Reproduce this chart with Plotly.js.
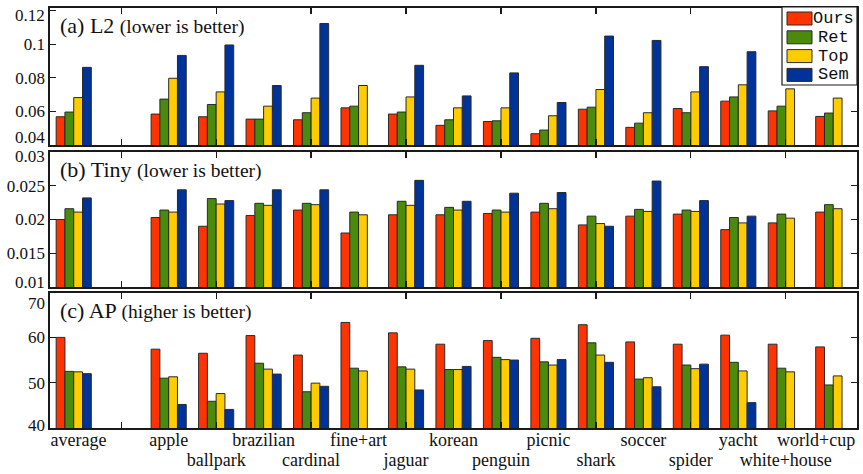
<!DOCTYPE html>
<html>
<head>
<meta charset="utf-8">
<script src="https://cdn.plot.ly/plotly-3.0.1.min.js"></script>
<style>html,body{margin:0;padding:0;background:#fff;}#chart{width:863px;height:474px;}</style>
</head>
<body>
<div id="chart"></div>
<script>
const categories = ['average','apple','ballpark','brazilian','cardinal','fine+art','jaguar','korean','penguin','picnic','shark','soccer','spider','yacht','white+house','world+cup'];
const seriesNames = ['Ours','Ret','Top','Sem'];

const l2Ours = [0.0568,0.0584,0.0568,0.0554,0.0550,0.0621,0.0584,0.0517,0.0540,0.0467,0.0613,0.0505,0.0617,0.0661,0.0603,0.0570];
const l2Ret  = [0.0596,0.0673,0.0641,0.0554,0.0592,0.0631,0.0596,0.0550,0.0544,0.0489,0.0625,0.0530,0.0592,0.0686,0.0631,0.0590];
const l2Top  = [0.0682,0.0797,0.0716,0.0631,0.0679,0.0754,0.0686,0.0621,0.0621,0.0574,0.0730,0.0592,0.0716,0.0758,0.0734,0.0679];
const l2Sem  = [0.0862,0.0933,0.0995,0.0754,0.1123,null,0.0874,0.0692,0.0829,0.0653,0.1048,0.1022,0.0866,0.0955,null,null];

const tinyOurs = [0.0200,0.0203,0.0190,0.0206,0.0214,0.0180,0.0207,0.0207,0.0209,0.0211,0.0192,0.0205,0.0208,0.0185,0.0195,0.0211];
const tinyRet  = [0.0216,0.0214,0.0231,0.0224,0.0224,0.0211,0.0227,0.0218,0.0214,0.0224,0.0205,0.0215,0.0214,0.0203,0.0208,0.0222];
const tinyTop  = [0.0211,0.0211,0.0223,0.0221,0.0222,0.0207,0.0221,0.0214,0.0211,0.0216,0.0194,0.0212,0.0212,0.0195,0.0202,0.0216];
const tinySem  = [0.0232,0.0244,0.0228,0.0244,0.0244,null,0.0258,0.0227,0.0239,0.0240,0.0190,0.0257,0.0228,0.0205,null,null];

const apOurs = [60.0,57.4,56.5,60.4,56.1,63.3,61.0,58.5,59.3,59.8,62.8,59.0,58.5,60.5,58.5,57.9];
const apRet  = [52.5,51.0,45.9,54.3,48.0,53.2,53.5,52.9,55.6,54.6,58.8,50.8,53.9,54.5,53.2,49.5];
const apTop  = [52.4,51.3,47.6,53.0,49.9,52.6,53.0,52.9,55.1,53.9,56.1,51.1,53.1,52.6,52.4,51.5];
const apSem  = [52.0,45.2,44.1,51.9,49.2,null,48.4,53.6,55.0,55.1,54.5,49.1,54.1,45.6,null,null];

const l2TickVals = [0.04,0.06,0.08,0.1,0.12];
const l2TickText = ['0.04','0.06','0.08','0.1','0.12'];
const tinyTickVals = [0.01,0.015,0.02,0.025,0.03];
const tinyTickText = ['0.01','0.015','0.02','0.025','0.03'];
const apTickVals = [40,50,60,70];
const apTickText = ['40','50','60','70'];

const panelTitles = ['(a) L2', '(b) Tiny', '(c) AP'];
const panelNotes = ['(lower is better)', '(lower is better)', '(higher is better)'];

// ---- layout / style ----
const colors = ['#FF3300','#4A8A0C','#FFCC00','#003399'];
const serif = '"Liberation Serif", "Times New Roman", Times, serif';
const mono = '"Liberation Mono", "Courier New", Courier, monospace';
const lineCol = '#1a1a1a';
const W = 863, H = 474, M = {l:50, r:6, t:8, b:46};
const pxX = x => (x - M.l) / (W - M.l - M.r);
const pxY = y => (H - M.b - y) / (H - M.t - M.b);

// an empty slot is left after "average"
const xpos = categories.map((c,i) => i === 0 ? 0 : i + 1);
const xRange = [-0.5, xpos[xpos.length-1] + 0.5];
const sepTicks = [];
for (let v = 1; v < xpos[xpos.length-1]; v += 2) sepTicks.push(v);

const panels = [
  {data:[l2Ours,l2Ret,l2Top,l2Sem], xa:'x', ya:'y', range:[0.04,0.1215], dom:[0.6738,1],
   tv:l2TickVals, tt:l2TickText, shift:[8,-5]},
  {data:[tinyOurs,tinyRet,tinyTop,tinySem], xa:'x2', ya:'y2', range:[0.01,0.03], dom:[0.3357,0.6571],
   tv:tinyTickVals, tt:tinyTickText, shift:[5,-4]},
  {data:[apOurs,apRet,apTop,apSem], xa:'x3', ya:'y3', range:[40,69.8], dom:[0,0.3214],
   tv:apTickVals, tt:apTickText, shift:[3,-10]}
];

const traces = [];
panels.forEach((p, pi) => {
  p.data.forEach((vals, si) => {
    traces.push({
      type:'bar', x:xpos, y:vals, name:seriesNames[si],
      xaxis:p.xa, yaxis:p.ya, showlegend:false,
      marker:{color:colors[si], line:{color:'#2a2a2a', width:1}},
      hoverinfo:'skip'
    });
  });
});
// empty carriers so that the two label rows get drawn
traces.push({type:'scatter', x:[], y:[], xaxis:'x4', yaxis:'y3', showlegend:false, hoverinfo:'skip'});
traces.push({type:'scatter', x:[], y:[], xaxis:'x5', yaxis:'y3', showlegend:false, hoverinfo:'skip'});

function xPanel(anchor) {
  return {
    anchor:anchor, range:xRange, showline:true, linecolor:lineCol, linewidth:1.6,
    mirror:'ticks', ticks:'inside', ticklen:6, tickwidth:1.2, tickcolor:lineCol,
    tickvals:sepTicks, showticklabels:false, showgrid:false, zeroline:false, fixedrange:true
  };
}
function yPanel(p) {
  // end labels are drawn as annotations, nudged inward as in the reference
  const inner = p.tt.map((t, i) => (i === 0 || i === p.tt.length - 1) ? '' : t);
  return {
    domain:p.dom, range:p.range, showline:true, linecolor:lineCol, linewidth:1.6,
    mirror:'ticks', ticks:'inside', ticklen:6, tickwidth:1.2, tickcolor:lineCol,
    tickvals:p.tv, ticktext:inner, showgrid:false, zeroline:false,
    tickfont:{family:serif, size:17, color:'#111'}, fixedrange:true
  };
}

// category labels in two staggered rows; the outermost labels are nudged to stay inside the frame
const row1Vals = [], row1Text = [], row2Vals = [], row2Text = [];
categories.forEach((c, i) => {
  const pos = xpos[i];
  if (pos % 2 === 0) {
    let lp = pos;
    if (i === 0) lp = pos + 0.1;
    if (i === categories.length - 1) lp = pos - 0.36;
    row1Vals.push(lp); row1Text.push(c);
  } else {
    row2Vals.push(pos); row2Text.push(c);
  }
});

const annotations = [];
panels.forEach((p, i) => {
  annotations.push({
    xref: p.xa + ' domain', yref: p.ya + ' domain',
    x:0, y:1, xanchor:'left', yanchor:'middle', xshift:8, yshift:-17,
    showarrow:false,
    text: panelTitles[i] + ' <span style="font-size:19.5px">' + panelNotes[i] + '</span>',
    font:{family:serif, size:22, color:'#111'}
  });
  const n = p.tv.length;
  const frac = v => Math.min(1, Math.max(0, (v - p.range[0]) / (p.range[1] - p.range[0])));
  annotations.push({xref:'paper', yref:p.ya + ' domain', x:0, y:frac(p.tv[0]), xanchor:'right', yanchor:'middle',
    xshift:-3, yshift:p.shift[0], showarrow:false, text:p.tt[0],
    font:{family:serif, size:17, color:'#111'}});
  annotations.push({xref:'paper', yref:p.ya + ' domain', x:0, y:frac(p.tv[n-1]), xanchor:'right', yanchor:'middle',
    xshift:-3, yshift:p.shift[1], showarrow:false, text:p.tt[n-1],
    font:{family:serif, size:17, color:'#111'}});
});

// legend box (drawn by hand to match the compact original)
const shapes = [{type:'rect', xref:'paper', yref:'paper', layer:'above',
  x0:pxX(782), x1:pxX(857), y0:pxY(85), y1:pxY(7),
  fillcolor:'#fff', line:{color:lineCol, width:1.2}}];
seriesNames.forEach((s, i) => {
  const cy = 18.5 + i * 18.8;
  shapes.push({type:'rect', xref:'paper', yref:'paper', layer:'above',
    x0:pxX(787), x1:pxX(812), y0:pxY(cy + 6.5), y1:pxY(cy - 6.5),
    fillcolor:colors[i], line:{color:'#2a2a2a', width:1}});
  annotations.push({xref:'paper', yref:'paper', x:pxX(833.5), y:pxY(cy), xanchor:'center', yanchor:'middle',
    showarrow:false, text:s, font:{family:mono, size:17, color:'#111'}});
});

const labelAxis = (vals, text, standoff) => ({
  overlaying:'x3', anchor:'y3', side:'bottom', range:xRange, showline:false, ticks:'',
  tickvals:vals, ticktext:text, showgrid:false, zeroline:false, ticklabelstandoff:standoff,
  ticklabeloverflow:'allow', tickfont:{family:serif, size:18, color:'#111'}, fixedrange:true
});

const layout = {
  width:W, height:H,
  margin:M,
  paper_bgcolor:'#fff', plot_bgcolor:'#fff',
  barmode:'group', bargap:0.26, bargroupgap:0,
  showlegend:false,
  xaxis: xPanel('y'),
  xaxis2: xPanel('y2'),
  xaxis3: xPanel('y3'),
  xaxis4: labelAxis(row1Vals, row1Text, -1),
  xaxis5: labelAxis(row2Vals, row2Text, 19),
  yaxis: yPanel(panels[0]),
  yaxis2: yPanel(panels[1]),
  yaxis3: yPanel(panels[2]),
  shapes: shapes,
  annotations: annotations
};

Plotly.newPlot('chart', traces, layout, {displayModeBar:false, staticPlot:true});
</script>
</body>
</html>
